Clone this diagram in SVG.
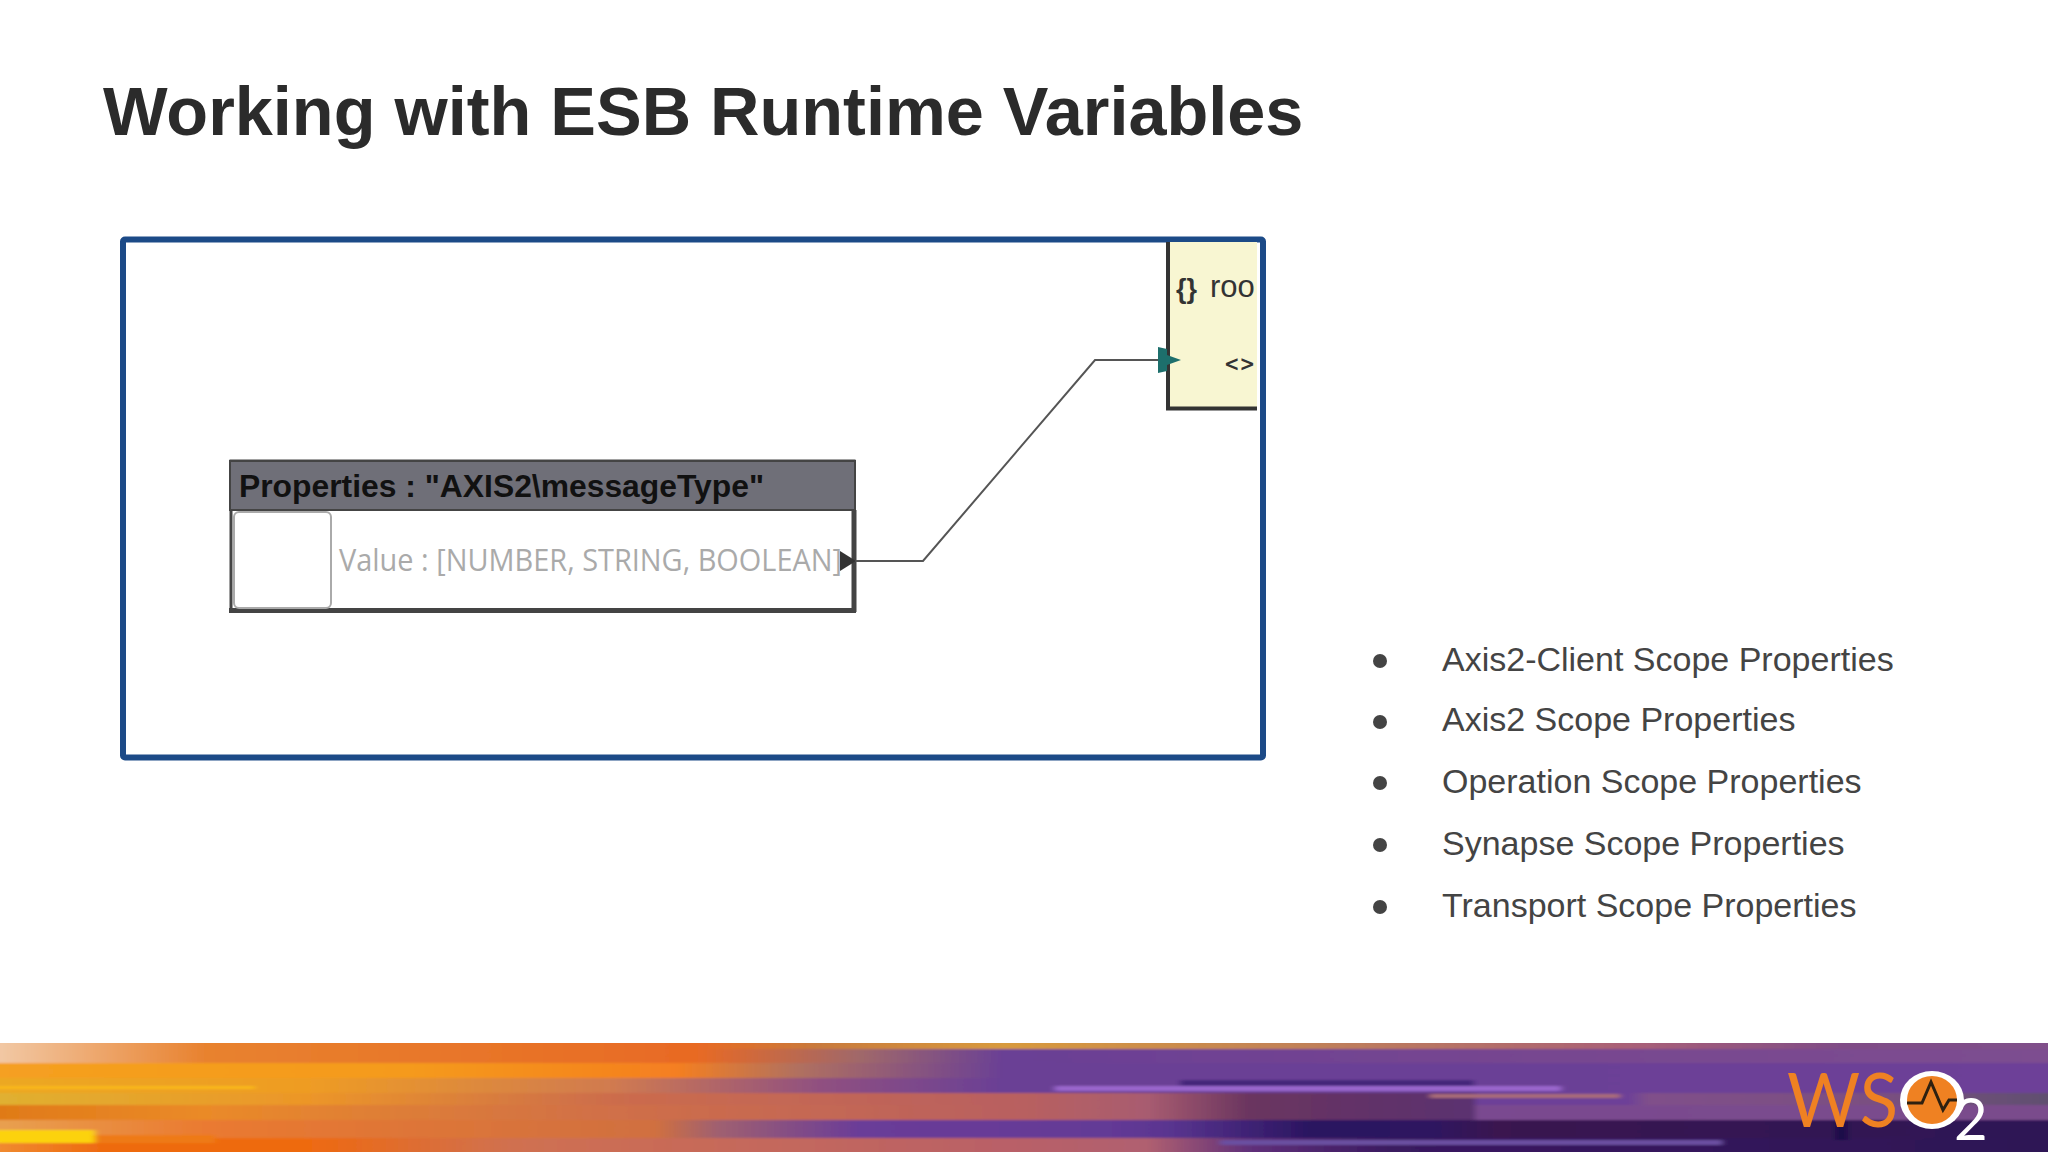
<svg xmlns="http://www.w3.org/2000/svg" width="2048" height="1152" viewBox="0 0 2048 1152">
<style>
.title{font:bold 68.45px "Liberation Sans",Arial,sans-serif;fill:#2b2b2b}
.li{font:34px "Liberation Sans",Arial,sans-serif;fill:#444}
.dot{fill:#444}
.wire{fill:none;stroke:#555;stroke-width:2}
</style>
<defs>
<clipPath id="bannerClip"><rect y="1043" width="2048" height="109"/></clipPath>
<filter id="soft" filterUnits="userSpaceOnUse" x="-40" y="1020" width="2128" height="160"><feGaussianBlur stdDeviation="3 1"/></filter>
<linearGradient id="a" gradientUnits="userSpaceOnUse" x1="0" x2="2048" y1="0" y2="0"><stop offset="0" stop-color="#f2c8a4"/><stop offset=".1" stop-color="#e8822f"/><stop offset=".34" stop-color="#e86a24"/><stop offset=".4" stop-color="#c87a3c"/><stop offset=".49" stop-color="#d89a3c"/><stop offset=".64" stop-color="#c08058"/><stop offset=".8" stop-color="#a85f78"/><stop offset=".9" stop-color="#7f4c86"/><stop offset="1" stop-color="#80508a"/></linearGradient>
<linearGradient id="b" gradientUnits="userSpaceOnUse" x1="0" x2="2048" y1="0" y2="0"><stop offset="0" stop-color="#f2c8a4"/><stop offset=".1" stop-color="#e8822f"/><stop offset=".34" stop-color="#e86a24"/><stop offset=".42" stop-color="#a0686a"/><stop offset=".49" stop-color="#6a4095"/><stop offset=".75" stop-color="#774690"/><stop offset="1" stop-color="#7d4e90"/></linearGradient>
<linearGradient id="c" gradientUnits="userSpaceOnUse" x1="0" x2="2048" y1="0" y2="0"><stop offset="0" stop-color="#f5a020"/><stop offset=".2" stop-color="#f59a1e"/><stop offset=".33" stop-color="#f57f20"/><stop offset=".39" stop-color="#b07060"/><stop offset=".49" stop-color="#6a4095"/><stop offset="1" stop-color="#6d4098"/></linearGradient>
<linearGradient id="d" gradientUnits="userSpaceOnUse" x1="0" x2="2048" y1="0" y2="0"><stop offset="0" stop-color="#eca824"/><stop offset=".15" stop-color="#ee9c24"/><stop offset=".3" stop-color="#d07a50"/><stop offset=".4" stop-color="#905080"/><stop offset=".49" stop-color="#6a4095"/><stop offset="1" stop-color="#6d4098"/></linearGradient>
<linearGradient id="e" gradientUnits="userSpaceOnUse" x1="0" x2="2048" y1="0" y2="0"><stop offset="0" stop-color="#e0b030"/><stop offset=".15" stop-color="#ec9628"/><stop offset=".3" stop-color="#cc6c4c"/><stop offset=".5" stop-color="#b86060"/><stop offset=".56" stop-color="#a85c70"/><stop offset=".61" stop-color="#6a3560"/><stop offset=".72" stop-color="#5a3070"/><stop offset=".72" stop-color="#6d4098"/><stop offset=".795" stop-color="#6d4098"/><stop offset=".805" stop-color="#80508a"/><stop offset=".92" stop-color="#7a5080"/><stop offset="1" stop-color="#605070"/></linearGradient>
<linearGradient id="f" gradientUnits="userSpaceOnUse" x1="0" x2="2048" y1="0" y2="0"><stop offset="0" stop-color="#e07a18"/><stop offset=".1" stop-color="#ea8a28"/><stop offset=".3" stop-color="#d06f48"/><stop offset=".5" stop-color="#b86060"/><stop offset=".56" stop-color="#a85c70"/><stop offset=".61" stop-color="#6a3560"/><stop offset=".72" stop-color="#5a3070"/><stop offset=".72" stop-color="#7a4a90"/><stop offset="1" stop-color="#7a4c8c"/></linearGradient>
<linearGradient id="g" gradientUnits="userSpaceOnUse" x1="0" x2="2048" y1="0" y2="0"><stop offset="0" stop-color="#e8a050"/><stop offset=".1" stop-color="#ea7a30"/><stop offset=".32" stop-color="#d07040"/><stop offset=".35" stop-color="#a06070"/><stop offset=".42" stop-color="#6a3c98"/><stop offset=".54" stop-color="#643a96"/><stop offset=".57" stop-color="#5a3590"/><stop offset=".64" stop-color="#2a1560"/><stop offset=".7" stop-color="#2e1560"/><stop offset=".73" stop-color="#3a1550"/><stop offset="1" stop-color="#2d1255"/></linearGradient>
<linearGradient id="h" gradientUnits="userSpaceOnUse" x1="0" x2="2048" y1="0" y2="0"><stop offset="0" stop-color="#f08a30"/><stop offset=".05" stop-color="#ee6a10"/><stop offset=".15" stop-color="#ee6a10"/><stop offset=".25" stop-color="#d07050"/><stop offset=".5" stop-color="#b86068"/><stop offset=".56" stop-color="#b06070"/><stop offset=".61" stop-color="#60307a"/><stop offset=".68" stop-color="#3a1a60"/><stop offset="1" stop-color="#2d1255"/></linearGradient>
<marker id="start-dark" markerUnits="userSpaceOnUse" markerWidth="18" markerHeight="22" refX="10" refY="11" orient="auto"><path d="M0 1L16 11L0 21Z" fill="#333"/></marker>
<marker id="end-teal" markerUnits="userSpaceOnUse" markerWidth="24" markerHeight="28" refX="2" refY="14" orient="auto"><path d="M0 1L9 3V9L23 14L9 19V25L0 27Z" fill="#1d6f6c"/></marker>
</defs>
<rect width="2048" height="1152" fill="#fff"/>
<text class="title" x="103" y="134.500">Working with ESB Runtime Variables</text>

<g id="banner" clip-path="url(#bannerClip)">
<g filter="url(#soft)">
<rect x="-30" y="1030" width="2108" height="19" fill="url(#a)"/>
<rect x="-30" y="1049" width="2108" height="14" fill="url(#b)"/>
<rect x="-30" y="1063" width="2108" height="15" fill="url(#c)"/>
<rect x="-30" y="1078" width="2108" height="15" fill="url(#d)"/>
<rect x="-30" y="1093" width="2108" height="12" fill="url(#e)"/>
<rect x="-30" y="1105" width="2108" height="15" fill="url(#f)"/>
<rect x="-30" y="1120" width="2108" height="18" fill="url(#g)"/>
<rect x="-30" y="1138" width="2108" height="30" fill="url(#h)"/>
<rect x="-30" y="1086" width="285" height="3" fill="#f9b81c"/>
<rect x="-30" y="1130" width="125" height="13" fill="#fcd208"/>
<rect x="95" y="1135" width="120" height="8" fill="#ee7a14"/>
<rect x="1180" y="1080" width="294" height="10" fill="#45257a"/>
<rect x="1055" y="1086" width="506" height="5" fill="#9a66cc"/>
<rect x="1430" y="1094" width="190" height="4" fill="#a86a78"/>
<rect x="1220" y="1140" width="502" height="5" fill="#6a4fa0"/>
<rect x="1835" y="1120" width="13" height="20" fill="#1d0c4a"/>
</g>
</g>
<g id="logo">
<text x="1787" y="1127" font-family="Lato,'Liberation Sans',sans-serif" font-weight="400" font-size="75" fill="#ef8122" textLength="111" lengthAdjust="spacingAndGlyphs">WS</text>
<ellipse cx="1932" cy="1100" rx="32" ry="29" fill="#fff"/>
<ellipse cx="1932" cy="1100" rx="25" ry="24" fill="#ef8122"/>
<path d="M1907 1103H1922L1931 1082L1943 1110L1949 1100H1957" fill="none" stroke="#2e2010" stroke-width="3"/>
<text x="1954" y="1140" font-family="Lato,'Liberation Sans',sans-serif" font-weight="400" font-size="58" fill="#fff">2</text>
</g>

<rect id="frame" x="123" y="239.500" width="1140" height="518" fill="#fff" stroke="#1c4a87" stroke-width="6" rx="2"/>

<g id="node-root">
<rect x="1168" y="242" width="89" height="166" fill="#f8f6d2"/>
<path d="M1168 242V408.500H1257" fill="none" stroke="#333" stroke-width="4"/>
<text x="1176" y="298" font-family="'Liberation Sans',sans-serif" font-weight="bold" font-size="27" fill="#333">{}</text>
<text x="1210" y="297" font-family="'Liberation Sans',sans-serif" font-size="31" fill="#333">roo</text>
<text x="1224" y="371" font-family="'DejaVu Sans',sans-serif" font-weight="bold" font-size="21" fill="#333" textLength="31" lengthAdjust="spacingAndGlyphs">&lt;&gt;</text>
</g>

<g id="node-properties">
<rect x="231" y="461" width="623" height="149" fill="#fff" stroke="#444" stroke-width="3"/>
<rect x="230" y="461" width="625" height="49" fill="#6f6f78" stroke="#444" stroke-width="2"/>
<path d="M229 610.500H856M854 510V612" fill="none" stroke="#444" stroke-width="5"/>
<text x="239" y="497" font-family="'Liberation Sans',sans-serif" font-weight="bold" font-size="32" fill="#111" textLength="525" lengthAdjust="spacingAndGlyphs">Properties : "AXIS2\messageType"</text>
<rect x="234" y="512" width="97" height="96" rx="5" fill="#fff" stroke="#aaa" stroke-width="2"/>
<text x="339" y="571" font-family="'Open Sans','Noto Sans',sans-serif" font-size="31" fill="#aaa" textLength="503" lengthAdjust="spacingAndGlyphs">Value : [NUMBER, STRING, BOOLEAN]</text>
</g>

<g id="connectors">
<path class="wire" d="M850 561H923L1095 360H1160" marker-start="url(#start-dark)" marker-end="url(#end-teal)"/>
</g>

<g id="list">
<circle class="dot" cx="1380" cy="661" r="7"/><text class="li" x="1442" y="671">Axis2-Client Scope Properties</text>
<circle class="dot" cx="1380" cy="722" r="7"/><text class="li" x="1442" y="731">Axis2 Scope Properties</text>
<circle class="dot" cx="1380" cy="783" r="7"/><text class="li" x="1442" y="793">Operation Scope Properties</text>
<circle class="dot" cx="1380" cy="845" r="7"/><text class="li" x="1442" y="855">Synapse Scope Properties</text>
<circle class="dot" cx="1380" cy="907" r="7"/><text class="li" x="1442" y="917">Transport Scope Properties</text>
</g>
</svg>
